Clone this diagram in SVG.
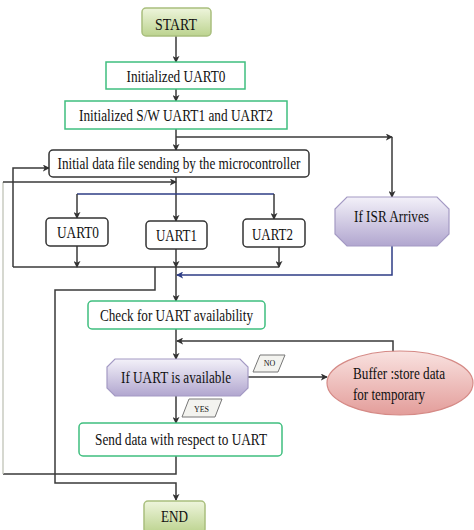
<svg xmlns="http://www.w3.org/2000/svg" width="474" height="530" viewBox="0 0 474 530">
<defs>
<linearGradient id="gGreen" x1="0" y1="0" x2="0" y2="1"><stop offset="0" stop-color="#eef5dc"/><stop offset="1" stop-color="#bcd38f"/></linearGradient>
<linearGradient id="gPurple" x1="0" y1="0" x2="0" y2="1"><stop offset="0" stop-color="#f3f1f9"/><stop offset="1" stop-color="#b1a6cf"/></linearGradient>
<linearGradient id="gPink" x1="0" y1="0" x2="0" y2="1"><stop offset="0" stop-color="#f9e2e0"/><stop offset="1" stop-color="#e39d9a"/></linearGradient>
<marker id="ar" viewBox="0 0 8 8" refX="7" refY="4" markerWidth="7" markerHeight="7" markerUnits="userSpaceOnUse" orient="auto"><path d="M0,0 L8,4 L0,8 L2,4 z" fill="#333"/></marker>
<marker id="arB" viewBox="0 0 8 8" refX="7" refY="4" markerWidth="7" markerHeight="7" markerUnits="userSpaceOnUse" orient="auto"><path d="M0,0 L8,4 L0,8 L2,4 z" fill="#2e3d85"/></marker>
</defs>
<style>
text{font-family:"Liberation Serif","Times New Roman",serif;font-size:17px;fill:#111;text-anchor:middle}
.small{font-size:8px}
.term{fill:url(#gGreen);stroke:#a9bf7d;stroke-width:1.5}
.grn{fill:#fff;stroke:#3fbf7f;stroke-width:1.5}
.blk{fill:#fff;stroke:#333;stroke-width:1.5}
.pur{fill:url(#gPurple);stroke:#a49ac4;stroke-width:1.2}
.pink{fill:url(#gPink);stroke:#d58a86;stroke-width:1.2}
.par{fill:#f3f3ef;stroke:#777;stroke-width:1}
.c{fill:none;stroke:#3a3a3a;stroke-width:1.5}
.cb{fill:none;stroke:#2e3d85;stroke-width:1.5}
.cl{fill:none;stroke:#c9cbc0;stroke-width:1.5}
</style>
<g id="connectors">
<path class="c" d="M176,36 V62" marker-end="url(#ar)"/>
<path class="c" d="M176,89 V101" marker-end="url(#ar)"/>
<path class="c" d="M176,129 V150" marker-end="url(#ar)"/>
<path class="c" d="M176,137 H392" marker-end="url(#ar)"/>
<path class="c" d="M392,137 V197" marker-end="url(#ar)"/>
<path class="c" d="M176,177 V221" marker-end="url(#ar)"/>
<path class="cb" d="M176,194 H77"/>
<path class="c" d="M77,194 V218" marker-end="url(#ar)"/>
<path class="cb" d="M176,194 H274"/>
<path class="c" d="M274,194 V219" marker-end="url(#ar)"/>
<path class="c" d="M77,246 V267" marker-end="url(#ar)"/>
<path class="c" d="M176,249 V267" marker-end="url(#ar)"/>
<path class="c" d="M279,247 V267" marker-end="url(#ar)"/>
<path class="c" d="M13,267 H279"/>
<path class="c" d="M13,267 V168 H49" marker-end="url(#ar)"/>
<path class="c" d="M155,267 V290 H55 V483 H176 V500" marker-end="url(#ar)"/>
<path class="cb" d="M392,246 V275 H177" marker-end="url(#arB)"/>
<path class="c" d="M176,267 V301" marker-end="url(#ar)"/>
<path class="c" d="M176,329 V359" marker-end="url(#ar)"/>
<path class="c" d="M393,352 V341 H177" marker-end="url(#ar)"/>
<path class="c" d="M248,377 H327" marker-end="url(#ar)"/>
<path class="c" d="M176,396 V423" marker-end="url(#ar)"/>
<path class="c" d="M176,456 V474 H3"/>
<path class="cl" d="M3,474 V182"/>
<path class="c" d="M3,182 H176" marker-end="url(#ar)"/>
</g>
<g id="start"><rect class="term" x="142" y="8" width="69" height="28" rx="4"/><text x="176" y="30" textLength="42" lengthAdjust="spacingAndGlyphs">START</text></g>
<g id="init0"><rect class="grn" x="106" y="62" width="139" height="27"/><text x="176" y="82" textLength="99" lengthAdjust="spacingAndGlyphs">Initialized UART0</text></g>
<g id="initsw"><rect class="grn" x="65" y="101" width="222" height="28"/><text x="176" y="121" textLength="194" lengthAdjust="spacingAndGlyphs">Initialized S/W UART1 and UART2</text></g>
<g id="initial"><rect class="blk" x="49" y="150" width="260" height="27" rx="4"/><text x="179" y="169" textLength="243" lengthAdjust="spacingAndGlyphs">Initial data file sending by the microcontroller</text></g>
<g id="uart0"><rect class="blk" x="46" y="218" width="62" height="28" rx="4"/><text x="78" y="238" textLength="42" lengthAdjust="spacingAndGlyphs">UART0</text></g>
<g id="uart1"><rect class="blk" x="146" y="221" width="61" height="28" rx="4"/><text x="176.5" y="241" textLength="41" lengthAdjust="spacingAndGlyphs">UART1</text></g>
<g id="uart2"><rect class="blk" x="243" y="219" width="62" height="28" rx="4"/><text x="272.5" y="240" textLength="41" lengthAdjust="spacingAndGlyphs">UART2</text></g>
<g id="isr"><polygon class="pur" points="347,197 437,197 449,209 449,234 437,246 347,246 335,234 335,209"/><text x="391.5" y="222" textLength="75" lengthAdjust="spacingAndGlyphs">If ISR Arrives</text></g>
<g id="check"><rect class="grn" x="88" y="301" width="177" height="28" rx="4"/><text x="176.5" y="321" textLength="153" lengthAdjust="spacingAndGlyphs">Check for UART availability</text></g>
<g id="ifuart"><polygon class="pur" points="115,359 240,359 248,367 248,388 240,396 115,396 107,388 107,367"/><text x="176" y="383" textLength="110" lengthAdjust="spacingAndGlyphs">If UART is available</text></g>
<g id="no"><polygon class="par" points="253,372 260,355 285,355 278,372"/><text class="small" x="269.5" y="366">NO</text></g>
<g id="buffer"><ellipse class="pink" cx="400" cy="383" rx="73" ry="32"/><text x="399" y="379" textLength="92" lengthAdjust="spacingAndGlyphs">Buffer :store data</text><text x="389" y="400" textLength="72" lengthAdjust="spacingAndGlyphs">for temporary</text></g>
<g id="yes"><polygon class="par" points="182,417 189,399 222,399 215,417"/><text class="small" x="201.5" y="411.5">YES</text></g>
<g id="send"><rect class="grn" x="79" y="423" width="203" height="33" rx="4"/><text x="181" y="445" textLength="172" lengthAdjust="spacingAndGlyphs">Send data with respect to UART</text></g>
<g id="end"><rect class="term" x="144" y="501" width="61" height="32" rx="4"/><text x="174.5" y="522" textLength="27" lengthAdjust="spacingAndGlyphs">END</text></g>
</svg>
